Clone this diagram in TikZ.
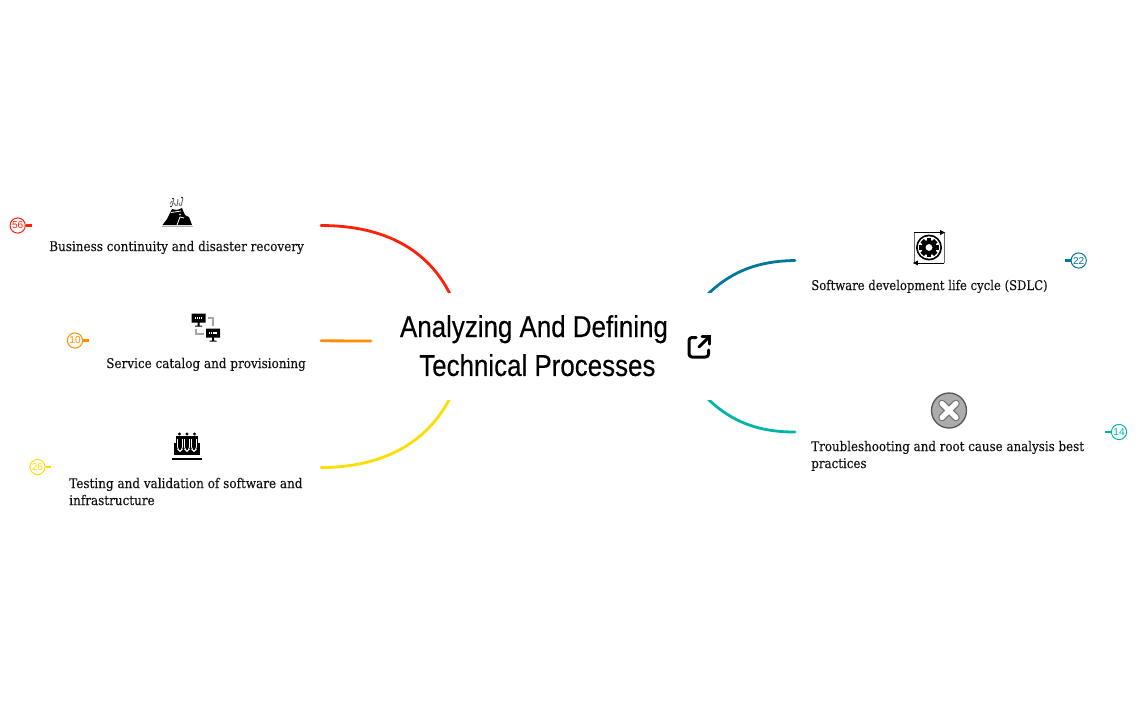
\documentclass[tikz,border=0pt]{standalone}
\usepackage{fontspec}
\setmainfont{DejaVu Serif}
\newfontfamily\titlefont[FakeStretch=0.86,FakeBold=0.35]{Liberation Sans}
\newfontfamily\labelfont[FakeStretch=0.9,FakeBold=0.15]{DejaVu Serif}
\newfontfamily\labelfontb[FakeStretch=0.874,FakeBold=0.15]{DejaVu Serif}
\newfontfamily\labelfontc[FakeStretch=0.89,FakeBold=0.15]{DejaVu Serif}
\newfontfamily\badgefont{Liberation Sans}
\usetikzlibrary{arrows.meta,calc}
\definecolor{cred}{HTML}{FF200A}
\definecolor{corange}{HTML}{FF8C00}
\definecolor{cyellow}{HTML}{FFDD00}
\definecolor{cblue}{HTML}{00789A}
\definecolor{cteal}{HTML}{00B5A5}
\definecolor{ink}{HTML}{111111}
\tikzset{
  titlenode/.style={font=\titlefont\fontsize{22.6}{29.2}\selectfont,align=center,inner sep=0pt,text=black},
  lbl/.style={font=\labelfont\fontsize{10}{12.75}\selectfont,align=left,anchor=base west,inner sep=0pt,text=ink},
  badge/.style={circle,draw=#1,text=#1,line width=0.75pt,minimum size=11.4pt,inner sep=0pt,font=\badgefont\fontsize{7.6}{8}\selectfont},
  stub/.style={draw=#1,line width=1.6pt},
  branch/.style={draw=#1,line width=2.1pt,line cap=round},
}
\begin{document}
\begin{tikzpicture}[x=0.75pt,y=-0.75pt]
\useasboundingbox (0,0) rectangle (1137,704);
\node[titlenode] (title) at (534,345.7) {Analyzing And Defining\\\hspace*{5pt}Technical Processes};
% branch end coordinates
\coordinate (r0) at (321,225.5); \coordinate (r1) at (450,294);
\coordinate (o0) at (321,340.8); \coordinate (o1) at (371,341);
\coordinate (y0) at (321,467.5); \coordinate (y1) at (450,398);
\coordinate (b0) at (795,260.5); \coordinate (b1) at (708,294);
\coordinate (t0) at (795,432); \coordinate (t1) at (708,399);
\begin{scope}
\clip (300,200) rectangle (820,292);
\path[branch=cred] (r0) .. controls (385,225.5) and (428,250) .. (r1);
\path[branch=cblue] (b0) .. controls (760,261) and (733,270) .. (b1);
\end{scope}
\path[branch=corange] (o0) -- (o1);
\begin{scope}
\clip (300,400.5) rectangle (820,500);
\path[branch=cyellow] (y0) .. controls (385,467.5) and (428,441) .. (y1);
\path[branch=cteal] (t0) .. controls (760,432) and (733,423) .. (t1);
\end{scope}
% labels
\node[lbl] (l1) at (49,251) {Business continuity and disaster recovery};
\node[lbl] (l2) at (106,368) {Service catalog and provisioning};
\node[lbl] (l3) at (69,505) {Testing and validation of software and\\infrastructure};
\node[lbl,font=\labelfontb\fontsize{10}{12.75}\selectfont] (l4) at (811,290) {Software development life cycle (SDLC)};
\node[lbl,font=\labelfontc\fontsize{10}{12.75}\selectfont] (l5) at (811,468) {Troubleshooting and root cause analysis best\\practices};
% badges
\node[badge=cred] (n1) at (17.7,225.5) {56};
\coordinate (s1) at (32,225.5); \path[stub=cred] (n1) -- (s1);
\node[badge=corange] (n2) at (75,340.5) {10};
\coordinate (s2) at (89,340.5); \path[stub=corange] (n2) -- (s2);
\node[badge=cyellow] (n3) at (37.5,467) {26};
\coordinate (s3) at (51,467); \path[stub=cyellow] (n3) -- (s3);
\node[badge=cblue] (n4) at (1078.7,260.5) {22};
\coordinate (s4) at (1065,260.5); \path[stub=cblue] (n4) -- (s4);
\node[badge=cteal] (n5) at (1119,432) {14};
\coordinate (s5) at (1105,432); \path[stub=cteal] (n5) -- (s5);
% external link icon
\draw[line width=2.25pt,line cap=round,line join=round,rounded corners=2.2pt] (696,337.5) -- (689,337.5) -- (689,357) -- (708.5,357) -- (708.5,350);
\draw[line width=2.25pt,line cap=round,line join=miter] (699,347) -- (709,337);
\draw[line width=2.25pt,line cap=round,line join=miter] (702,336.5) -- (709.5,336.5) -- (709.5,344);
% volcano
\fill[black] (162.5,225) -- (167,219) -- (172,209) -- (177,210) -- (182,208) -- (185,215) -- (189,217) -- (192,225) -- cycle;
\fill[gray!60] (162,225.5) rectangle (192.5,227);
\fill[white] (180,214.5) circle (0.9);
\draw[white,line width=0.6pt] (171,212.5) -- (181,211) (177,225) -- (180,217) -- (184,218);
\draw[black!55,line width=0.7pt] (172,206) -- (174,199) (177,206) -- (178,199) (181,206) -- (183,198) (174,203) -- (176,206) (179,203) -- (180,206) (170,204) -- (172,201);
\fill (171,206.5) circle (0.9) (173,198.5) circle (0.9) (182,197.5) circle (0.9);
% network
\fill[black] (191.5,313.5) rectangle (205.5,322.5) (195,325.5) rectangle (202,326.5) (197.5,322.5) rectangle (199.5,325.5);
\fill[black] (206,328.5) rectangle (220,337.5) (209.5,340.5) rectangle (216.5,341.5) (212,337.5) rectangle (214,340.5);
\draw[white,line width=0.8pt,dash pattern=on 1pt off 0.6pt] (194.5,318) -- (203,318) (209,333) -- (217.5,333);
\draw[gray!70,line width=0.85pt] (207.5,318) -- (213,318) -- (213,325.5) (196,328.5) -- (196,334) -- (203.5,334);
% lab
\fill[black] (172,457.5) rectangle (202,460);
\fill[black] (174,443) rectangle (200,454.5);
\fill[black] (176,436) rectangle (198,443);
\fill (179.5,434) circle (1.7) (187,434) circle (1.7) (194.5,434) circle (1.7);
\foreach \x in {180,187,194}{\draw[white,line width=0.6pt,rounded corners=1.5pt] (\x-2.5,439) -- (\x-2.5,449) -- (\x,451.5) -- (\x+2.5,449) -- (\x+2.5,439);}
% gear
\draw[black!60,line width=0.5pt] (914,263) -- (914,232.5);
\draw[black!60,line width=0.5pt] (944,233) -- (944,263);
\draw[black,line width=0.6pt,-{Latex[length=4pt,width=4pt]}] (914,232.5) -- (945.5,232.5);
\draw[black,line width=0.6pt,-{Latex[length=4pt,width=4pt]}] (944,263) -- (912.5,263);
\fill[white] (929,247.5) circle (14);
\fill[black] (929,247.5) circle (13);
\fill[white] (929,247.5) circle (11.2);
\fill[black] (929,247.5) circle (7.5);
\foreach \a in {0,45,...,315}{\fill[black,shift={(929,247.5)},rotate=\a] (-2.4,-9.6) rectangle (2.4,-5);}
\fill[white] (929,247.5) circle (3.4);
% cross
\fill[gray!65] (949,410.5) circle (17.5);
\draw[black!65,line width=1pt] (949,410.5) circle (17.5);
\draw[black!55,line width=5.6pt,line cap=round] (942,403.5) -- (956,417.5) (956,403.5) -- (942,417.5);
\draw[white,line width=3.9pt,line cap=round] (942,403.5) -- (956,417.5) (956,403.5) -- (942,417.5);
\end{tikzpicture}
\end{document}
